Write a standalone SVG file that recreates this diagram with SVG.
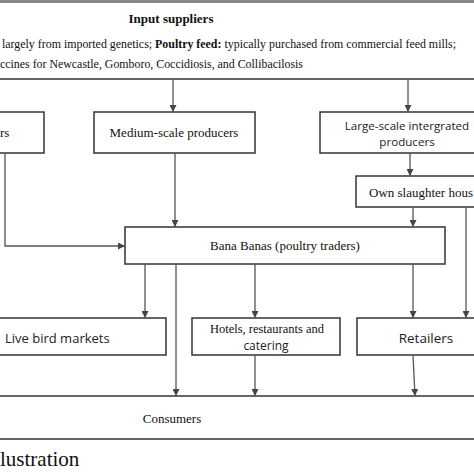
<svg xmlns="http://www.w3.org/2000/svg" width="474" height="474" viewBox="0 0 474 474">
<defs>
<marker id="ah" viewBox="0 0 10 10" refX="10" refY="5" markerWidth="7" markerHeight="7" markerUnits="userSpaceOnUse" orient="auto"><path d="M0,0 L10,5 L0,10 z" fill="#444"/></marker>
<style>
.box{fill:#fff;stroke:#333;stroke-width:1.5}
.ser{font-family:"Liberation Serif","Times New Roman",serif;fill:#111}
.san{font-family:"Open Sans","Liberation Sans",sans-serif;fill:#222}
.ln{fill:none;stroke:#555;stroke-width:1.3}
.arr{fill:none;stroke:#555;stroke-width:1.3;marker-end:url(#ah)}
</style>
</defs>
<rect x="0" y="0" width="474" height="474" fill="#fff"/>
<rect x="0" y="0" width="474" height="3" fill="#888"/>
<g id="input-suppliers">
<text class="ser" x="171" y="23" font-size="13" font-weight="bold" text-anchor="middle">Input suppliers</text>
<text class="ser" x="2" y="48" font-size="11.5" textLength="454" lengthAdjust="spacingAndGlyphs">largely from imported genetics;  <tspan font-weight="bold">Poultry feed:</tspan> typically purchased from commercial feed mills;</text>
<text class="ser" x="0" y="68" font-size="11.5" textLength="303" lengthAdjust="spacingAndGlyphs">ccines for Newcastle, Gomboro, Coccidiosis, and Collibacilosis</text>
<line x1="0" y1="79" x2="474" y2="79" stroke="#333" stroke-width="1.5"/>
</g>
<g id="small-producers">
<rect class="box" x="-10" y="112" width="54" height="41"/>
<text class="ser" x="0" y="137" font-size="13">rs</text>
</g>
<g id="medium-producers">
<rect class="box" x="94" y="112" width="161" height="41"/>
<text class="ser" x="174" y="137" font-size="13" text-anchor="middle">Medium-scale producers</text>
</g>
<g id="large-producers">
<rect class="box" x="320" y="112" width="164" height="41"/>
<text class="san" x="407" y="130" font-size="11.6" text-anchor="middle">Large-scale intergrated</text>
<text class="san" x="407" y="146" font-size="11.6" text-anchor="middle">producers</text>
</g>
<g id="own-slaughter">
<rect class="box" x="356" y="176" width="128" height="31"/>
<text class="ser" x="369" y="197" font-size="13">Own slaughter hous</text>
</g>
<g id="bana-banas">
<rect class="box" x="125" y="227" width="320" height="37"/>
<text class="ser" x="285" y="250" font-size="13" text-anchor="middle">Bana Banas (poultry traders)</text>
</g>
<g id="live-bird-markets">
<rect class="box" x="-10" y="318" width="176" height="37"/>
<text class="san" x="5" y="343" font-size="13">Live bird markets</text>
</g>
<g id="hotels">
<rect class="box" x="192" y="318" width="148" height="37"/>
<text class="ser" x="267" y="333" font-size="12.5" text-anchor="middle">Hotels, restaurants and</text>
<text class="san" x="266" y="350" font-size="12" text-anchor="middle">catering</text>
</g>
<g id="retailers">
<rect class="box" x="357" y="318" width="127" height="37"/>
<text class="san" x="426" y="343" font-size="13.5" text-anchor="middle">Retailers</text>
</g>
<g id="consumers">
<line x1="0" y1="396" x2="474" y2="396" stroke="#333" stroke-width="1.5"/>
<line x1="0" y1="439" x2="474" y2="439" stroke="#333" stroke-width="1.5"/>
<text class="ser" x="172" y="423" font-size="13" text-anchor="middle">Consumers</text>
</g>
<g id="caption">
<text class="ser" x="0" y="466" font-size="21">lustration</text>
</g>
<g id="connectors">
<path class="arr" d="M173,79 V112"/>
<path class="arr" d="M408,79 V112"/>
<path class="arr" d="M410,153 V176"/>
<path class="arr" d="M5,153 V246 H125"/>
<path class="arr" d="M175,153 V227"/>
<path class="arr" d="M413,207 V227"/>
<path class="arr" d="M466,207 V318"/>
<path class="arr" d="M145,264 V318"/>
<path class="arr" d="M255,264 V318"/>
<path class="arr" d="M413,264 V318"/>
<path class="arr" d="M176,264 V396"/>
<path class="arr" d="M255,355 V396"/>
<path class="arr" d="M413,355 L415,396"/>
</g>
</svg>
